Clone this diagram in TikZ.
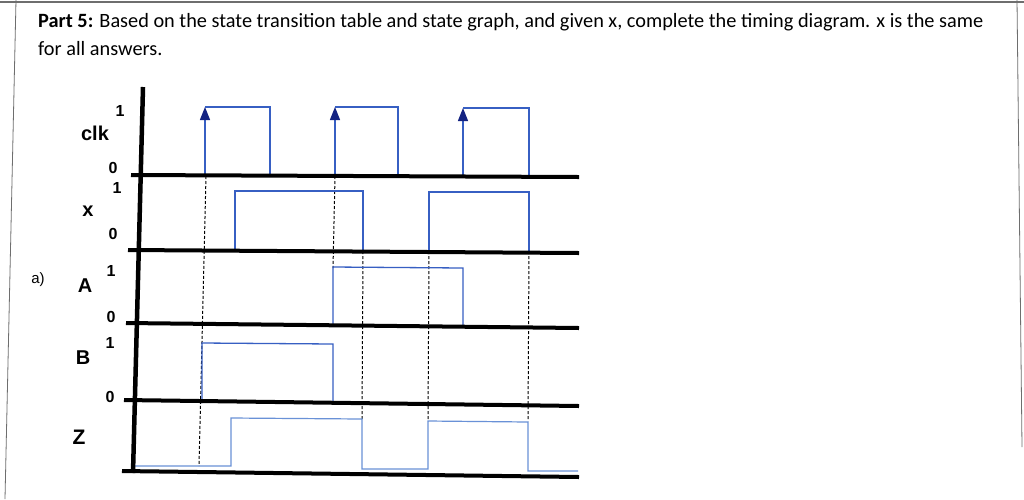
\documentclass[tikz,border=0pt]{standalone}
\usepackage{fontspec}
\setmainfont{Carlito}
\newfontfamily\arialf{Liberation Sans}
\usetikzlibrary{arrows.meta}
\definecolor{sigblue}{RGB}{55,95,195}
\definecolor{zblue}{RGB}{105,145,215}
\definecolor{navy}{RGB}{20,35,130}
\definecolor{framegray}{RGB}{110,110,110}
\tikzset{
  axisline/.style={black, line width=4pt},
  vaxis/.style={black, line width=4.5pt},
  sig/.style={sigblue, line width=1.3pt},
  zsig/.style={zblue, line width=1.2pt},
  guide/.style={black, line width=1pt, dash pattern=on 3pt off 2pt},
  clkedge/.style={sig, -{Triangle[length=13pt,width=10pt,color=navy]}},
  lbl/.style={font=\arialf\bfseries\fontsize{20}{24}\selectfont, inner sep=0pt},
  num/.style={font=\arialf\bfseries\fontsize{16}{19}\selectfont, inner sep=0pt},
  part/.style={font=\arialf\fontsize{15}{18}\selectfont, inner sep=0pt},
  title/.style={font=\fontsize{20.3}{24}\selectfont, inner sep=0pt, anchor=base west},
  frameline/.style={framegray, line width=0.8pt}
}
\begin{document}
\begin{tikzpicture}[x=1pt,y=-1pt]
\useasboundingbox (0,0) rectangle (1024,499);
\fill[white] (0,0) rectangle (1024,499);
% frame
\draw[frameline, line width=1.5pt] (0,2) -- (1024,2);
\draw[frameline] (16,0) -- (5,499);
\draw[frameline] (1017,0) -- (1022,447);
% title
\node[title] (t1) at (38,27) {\textbf{Part 5:} Based on the state transition table and state graph, and given x, complete the timing diagram. x is the same};
\node[title] (t2) at (38,55) {for all answers.};
% guides
\draw[guide] (206,176) -- (199,466);
\draw[guide] (335,176) -- (333,268);
\draw[guide] (363,251) -- (362,419);
\draw[guide] (429,251) -- (428,421);
\draw[guide] (529,251) -- (528,421);
% clk
\draw[clkedge] (205,176) -- (205,107);
\draw[sig] (205,107) -- (270,107) -- (270,176);
\draw[clkedge] (335,176) -- (335,107);
\draw[sig] (335,107) -- (398,107) -- (398,176);
\draw[clkedge] (463,176) -- (463,108);
\draw[sig] (463,108) -- (529,108) -- (529,176);
% x
\draw[sig] (235,251) -- (235,191) -- (363,191) -- (363,251);
\draw[sig] (429,251) -- (429,192) -- (529,192) -- (529,251);
% A
\draw[sig] (333,326) -- (333,267) -- (463,268) -- (463,327);
% B
\draw[sig] (202,403) -- (202,343) -- (333,344) -- (333,404);
% Z
\draw[zsig] (134,466) -- (231,466) -- (231,418) -- (362,419) -- (362,469) -- (428,469) -- (428,421) -- (528,422) -- (528,471) -- (578,471);
% axes
\draw[axisline] (131,175) -- (579,177);
\draw[axisline] (128,250) -- (579,253);
\draw[axisline] (126,323) -- (579,328);
\draw[axisline] (124,400) -- (579,406);
\draw[axisline] (122,471) -- (579,477);
\draw[vaxis] (143,87) -- (133,473);
% labels
\node[num] (c1) at (120,111) {1};
\node[lbl] (clk) at (95,133) {clk};
\node[num] (c0) at (113,168) {0};
\node[num] (x1) at (117,188) {1};
\node[lbl] (xl) at (88,211) {x};
\node[num] (x0) at (113,234) {0};
\node[num] (a1) at (111,271) {1};
\node[lbl] (al) at (85,286) {A};
\node[num] (a0) at (111,317) {0};
\node[num] (b1) at (110,343) {1};
\node[lbl] (bl) at (83,358) {B};
\node[num] (b0) at (110,397) {0};
\node[lbl, font=\arialf\bfseries\fontsize{21}{25}\selectfont] (zl) at (79,437) {Z};
\node[part] (pa) at (38,280) {a)};
\end{tikzpicture}
\end{document}
